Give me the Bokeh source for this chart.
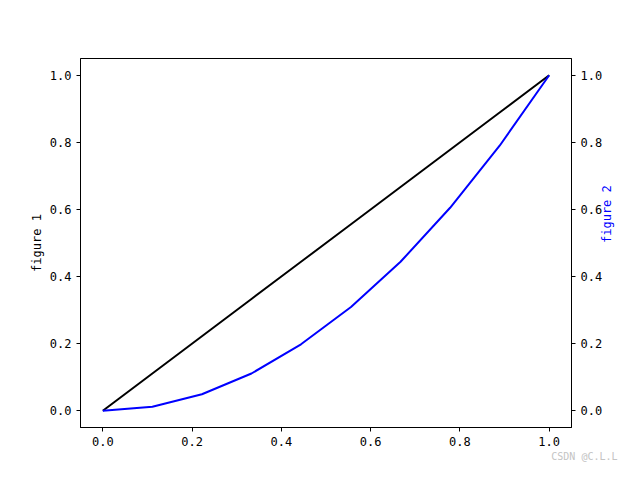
import math
from bokeh.plotting import figure
from bokeh.models import Range1d, LinearAxis, FixedTicker, NumeralTickFormatter, Title
from bokeh.embed import file_html
from bokeh.resources import INLINE

x = [0.0, 0.111, 0.222, 0.333, 0.444, 0.556, 0.667, 0.778, 0.889, 1.0]
y1 = [0.0, 0.111, 0.222, 0.333, 0.444, 0.556, 0.667, 0.778, 0.889, 1.0]
y2 = [0.0, 0.012, 0.049, 0.111, 0.198, 0.309, 0.444, 0.605, 0.790, 1.0]
ticks = [0.0, 0.2, 0.4, 0.6, 0.8, 1.0]

FONT = "DejaVu Sans Mono"
W, H = 624, 464
BL, BR, BT, BB = 80, 48, 58, 37

p = figure(width=W, height=H, output_backend="svg", toolbar_location=None,
           x_range=Range1d(-0.05, 1.05), y_range=Range1d(-0.05, 1.05),
           min_border_left=BL, min_border_right=BR, min_border_top=BT, min_border_bottom=BB)
p.extra_y_ranges = {"r": Range1d(-0.05, 1.05)}
p.grid.visible = False
p.outline_line_color = "black"
p.outline_line_width = 1
p.background_fill_color = "white"

p.line(x, y1, color="black", line_width=2)
p.line(x, y2, color="blue", line_width=2, y_range_name="r")

raxis = LinearAxis(y_range_name="r", axis_label="figure 2")
p.add_layout(raxis, "right")

for ax in [p.xaxis[0], p.yaxis[0], raxis]:
    ax.ticker = FixedTicker(ticks=ticks)
    ax.formatter = NumeralTickFormatter(format="0.0")
    ax.major_tick_in = 0
    ax.major_tick_out = 4
    ax.minor_tick_line_color = None
    ax.axis_line_color = "black"
    ax.major_label_text_font = FONT
    ax.major_label_text_font_size = "12px"
    ax.major_label_text_color = "black"
    ax.major_label_standoff = 5
    ax.axis_label_text_font = FONT
    ax.axis_label_text_font_size = "12px"
    ax.axis_label_text_font_style = "normal"
    ax.axis_label_text_color = "black"

p.yaxis[0].axis_label = "figure 1"
p.yaxis[0].axis_label_standoff = 3
raxis.axis_label_text_color = "blue"
raxis.axis_label_standoff = 2
raxis.axis_label_text_align = "center"
raxis.axis_label_text_baseline = "middle"
try:
    raxis.axis_label_orientation = math.pi / 2
except Exception:
    pass

p.add_layout(Title(text="CSDN @C.L.L", align="right", offset=-46, standoff=0,
                   text_color="#c4c4c4", text_font=FONT, text_font_size="10px",
                   text_font_style="normal"), "below")

open("out.html", "w").write(file_html(p, INLINE))
